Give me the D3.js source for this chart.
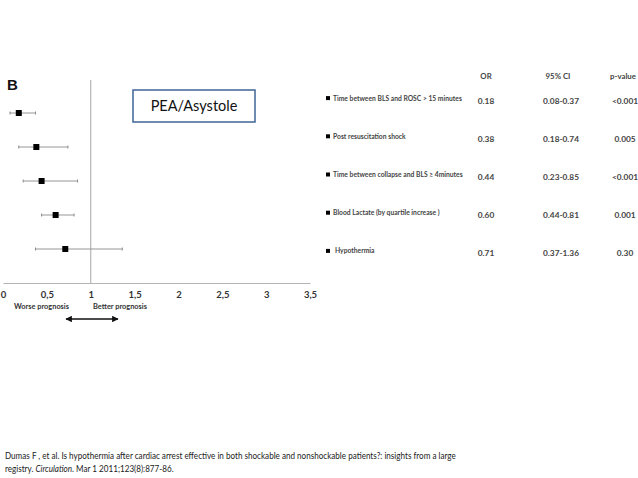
<!DOCTYPE html>
<html><head><meta charset="utf-8">
<script src="https://cdn.jsdelivr.net/npm/d3@7"></script>
<style>body{margin:0;background:#fff}svg{display:block}</style>
</head><body>
<svg id="c" width="638" height="478"></svg>
<script>
const categories = ["Time between BLS and ROSC > 15 minutes","Post resuscitation shock","Time between collapse and BLS \u2265 4minutes","Blood Lactate (by quartile increase )","Hypothermia"];
const orValues = [0.18, 0.38, 0.44, 0.60, 0.71];
const ciLow = [0.08, 0.18, 0.23, 0.44, 0.37];
const ciHigh = [0.37, 0.74, 0.85, 0.81, 1.36];
const ciText = ["0.08-0.37","0.18-0.74","0.23-0.85","0.44-0.81","0.37-1.36"];
const orText = ["0.18","0.38","0.44","0.60","0.71"];
const pValues = ["<0.001","0.005","<0.001","0.001","0.30"];
const xTicks = [0,0.5,1,1.5,2,2.5,3,3.5];
const tickLabels = ["0","0,5","1","1,5","2","2,5","3","3,5"];

const svg = d3.select("#c");
const x = d3.scaleLinear().domain([0,3.5]).range([3,310]);
const y = d3.scaleBand().domain(categories).range([96,266]);
const yl = d3.scaleBand().domain(categories).range([80,271]);
const axisY = 283;
const tf = "Lato, 'Open Sans', sans-serif";

// vertical reference line
svg.append("line").attr("x1",x(1)).attr("x2",x(1)).attr("y1",80).attr("y2",axisY)
  .attr("stroke","#b5b5b5").attr("stroke-width",1.2);

// axis
const ax = svg.append("g").attr("transform",`translate(0,${axisY})`)
  .call(d3.axisBottom(x).tickValues(xTicks).tickFormat((d,i)=>tickLabels[i]).tickSize(0).tickPadding(8));
ax.select(".domain").attr("stroke","#b5b5b5").attr("stroke-width",1.2);
ax.selectAll("text").attr("font-family",tf).attr("font-size",9.5).attr("font-weight","bold").attr("fill","#333");

// CIs
const rows = svg.append("g").selectAll("g").data(categories).join("g")
  .attr("transform",d=>`translate(0,${y(d)+y.bandwidth()/2})`);
rows.append("line").attr("x1",(d,i)=>x(ciLow[i])).attr("x2",(d,i)=>x(ciHigh[i]))
  .attr("stroke","#8a8a8a").attr("stroke-width",0.9);
rows.append("line").attr("x1",(d,i)=>x(ciLow[i])).attr("x2",(d,i)=>x(ciLow[i])).attr("y1",-1.5).attr("y2",1.5).attr("stroke","#8a8a8a");
rows.append("line").attr("x1",(d,i)=>x(ciHigh[i])).attr("x2",(d,i)=>x(ciHigh[i])).attr("y1",-1.5).attr("y2",1.5).attr("stroke","#8a8a8a");
rows.append("rect").attr("x",(d,i)=>x(orValues[i])-3).attr("y",-3).attr("width",6).attr("height",6).attr("fill","#000");

// B label
svg.append("text").attr("x",7).attr("y",90).text("B").attr("font-family","Liberation Sans, Arial, sans-serif")
  .attr("font-weight","bold").attr("font-size",15).attr("fill","#111");

// PEA/Asystole box
svg.append("rect").attr("x",133).attr("y",90).attr("width",122).attr("height",32)
  .attr("fill","#fff").attr("stroke","#3f6496").attr("stroke-width",1.5);
svg.append("text").attr("x",194).attr("y",111).attr("text-anchor","middle").text("PEA/Asystole")
  .attr("font-family",tf).attr("font-size",14.5).attr("fill","#111");

// prognosis labels
svg.append("text").attr("x",14).attr("y",309).text("Worse prognosis").attr("font-family",tf).attr("font-size",7.6).attr("font-weight","bold").attr("fill","#333")
  .attr("textLength",55).attr("lengthAdjust","spacingAndGlyphs");
svg.append("text").attr("x",93).attr("y",309).text("Better prognosis").attr("font-family",tf).attr("font-size",7.6).attr("font-weight","bold").attr("fill","#333")
  .attr("textLength",54).attr("lengthAdjust","spacingAndGlyphs");
const defs = svg.append("defs");
defs.append("marker").attr("id","ah").attr("viewBox","0 0 10 10").attr("refX",9).attr("refY",5)
  .attr("markerWidth",5).attr("markerHeight",5).attr("orient","auto-start-reverse")
  .append("path").attr("d","M0,0L10,5L0,10z").attr("fill","#111");
svg.append("line").attr("x1",66).attr("x2",118).attr("y1",319).attr("y2",319).attr("stroke","#111").attr("stroke-width",1.3)
  .attr("marker-start","url(#ah)").attr("marker-end","url(#ah)");

// table
const hdr = svg.append("g").attr("font-family",tf).attr("font-size",7.8).attr("font-weight","bold").attr("fill","#444");
hdr.append("text").attr("x",486).attr("y",79).attr("text-anchor","middle").text("OR");
hdr.append("text").attr("x",558).attr("y",79).attr("text-anchor","middle").text("95% CI");
hdr.append("text").attr("x",623).attr("y",79).attr("text-anchor","middle").text("p-value");

const trow = svg.append("g").selectAll("g").data(categories).join("g")
  .attr("transform",d=>`translate(0,${yl(d)+yl.bandwidth()/2})`)
  .attr("font-family",tf).attr("font-weight","bold").attr("fill","#444");
trow.append("rect").attr("x",326).attr("y",-3).attr("width",4).attr("height",4).attr("fill","#000");
const lbl = trow.append("g").attr("class","lbl");
lbl.append("text").attr("x",0).attr("y",1.5).attr("font-size",7.6).text(d=>d);
// horizontal condensation so row labels match the narrow original face
const w0 = lbl.select("text").node().getComputedTextLength();
const kLbl = Math.min(1, 129 / w0);
lbl.attr("transform",(d,i)=>`translate(${i===4?335:333},0) scale(${kLbl},1)`);
trow.append("text").attr("x",486).attr("y",4.5).attr("text-anchor","middle").attr("font-size",8.3).text((d,i)=>orText[i]);
trow.append("text").attr("x",561).attr("y",4.5).attr("text-anchor","middle").attr("font-size",8.3).text((d,i)=>ciText[i]);
trow.append("text").attr("x",625).attr("y",4.5).attr("text-anchor","middle").attr("font-size",8.3).text((d,i)=>pValues[i]);

// citation
const citG = svg.append("g");
const c1 = citG.append("text").attr("font-family",tf).attr("font-size",9.6).attr("fill","#222").attr("x",0).attr("y",459)
  .text("Dumas F , et al. Is hypothermia after cardiac arrest effective in both shockable and nonshockable patients?: insights from a large");
const l2 = citG.append("text").attr("font-family",tf).attr("font-size",9.6).attr("fill","#222").attr("x",0).attr("y",472);
l2.append("tspan").text("registry. ");
l2.append("tspan").attr("font-style","italic").text("Circulation");
l2.append("tspan").text(". Mar 1 2011;123(8):877-86.");
const kc = Math.min(1, 451 / c1.node().getComputedTextLength());
citG.attr("transform",`translate(5,0) scale(${kc},1)`);
</script>
</body></html>
